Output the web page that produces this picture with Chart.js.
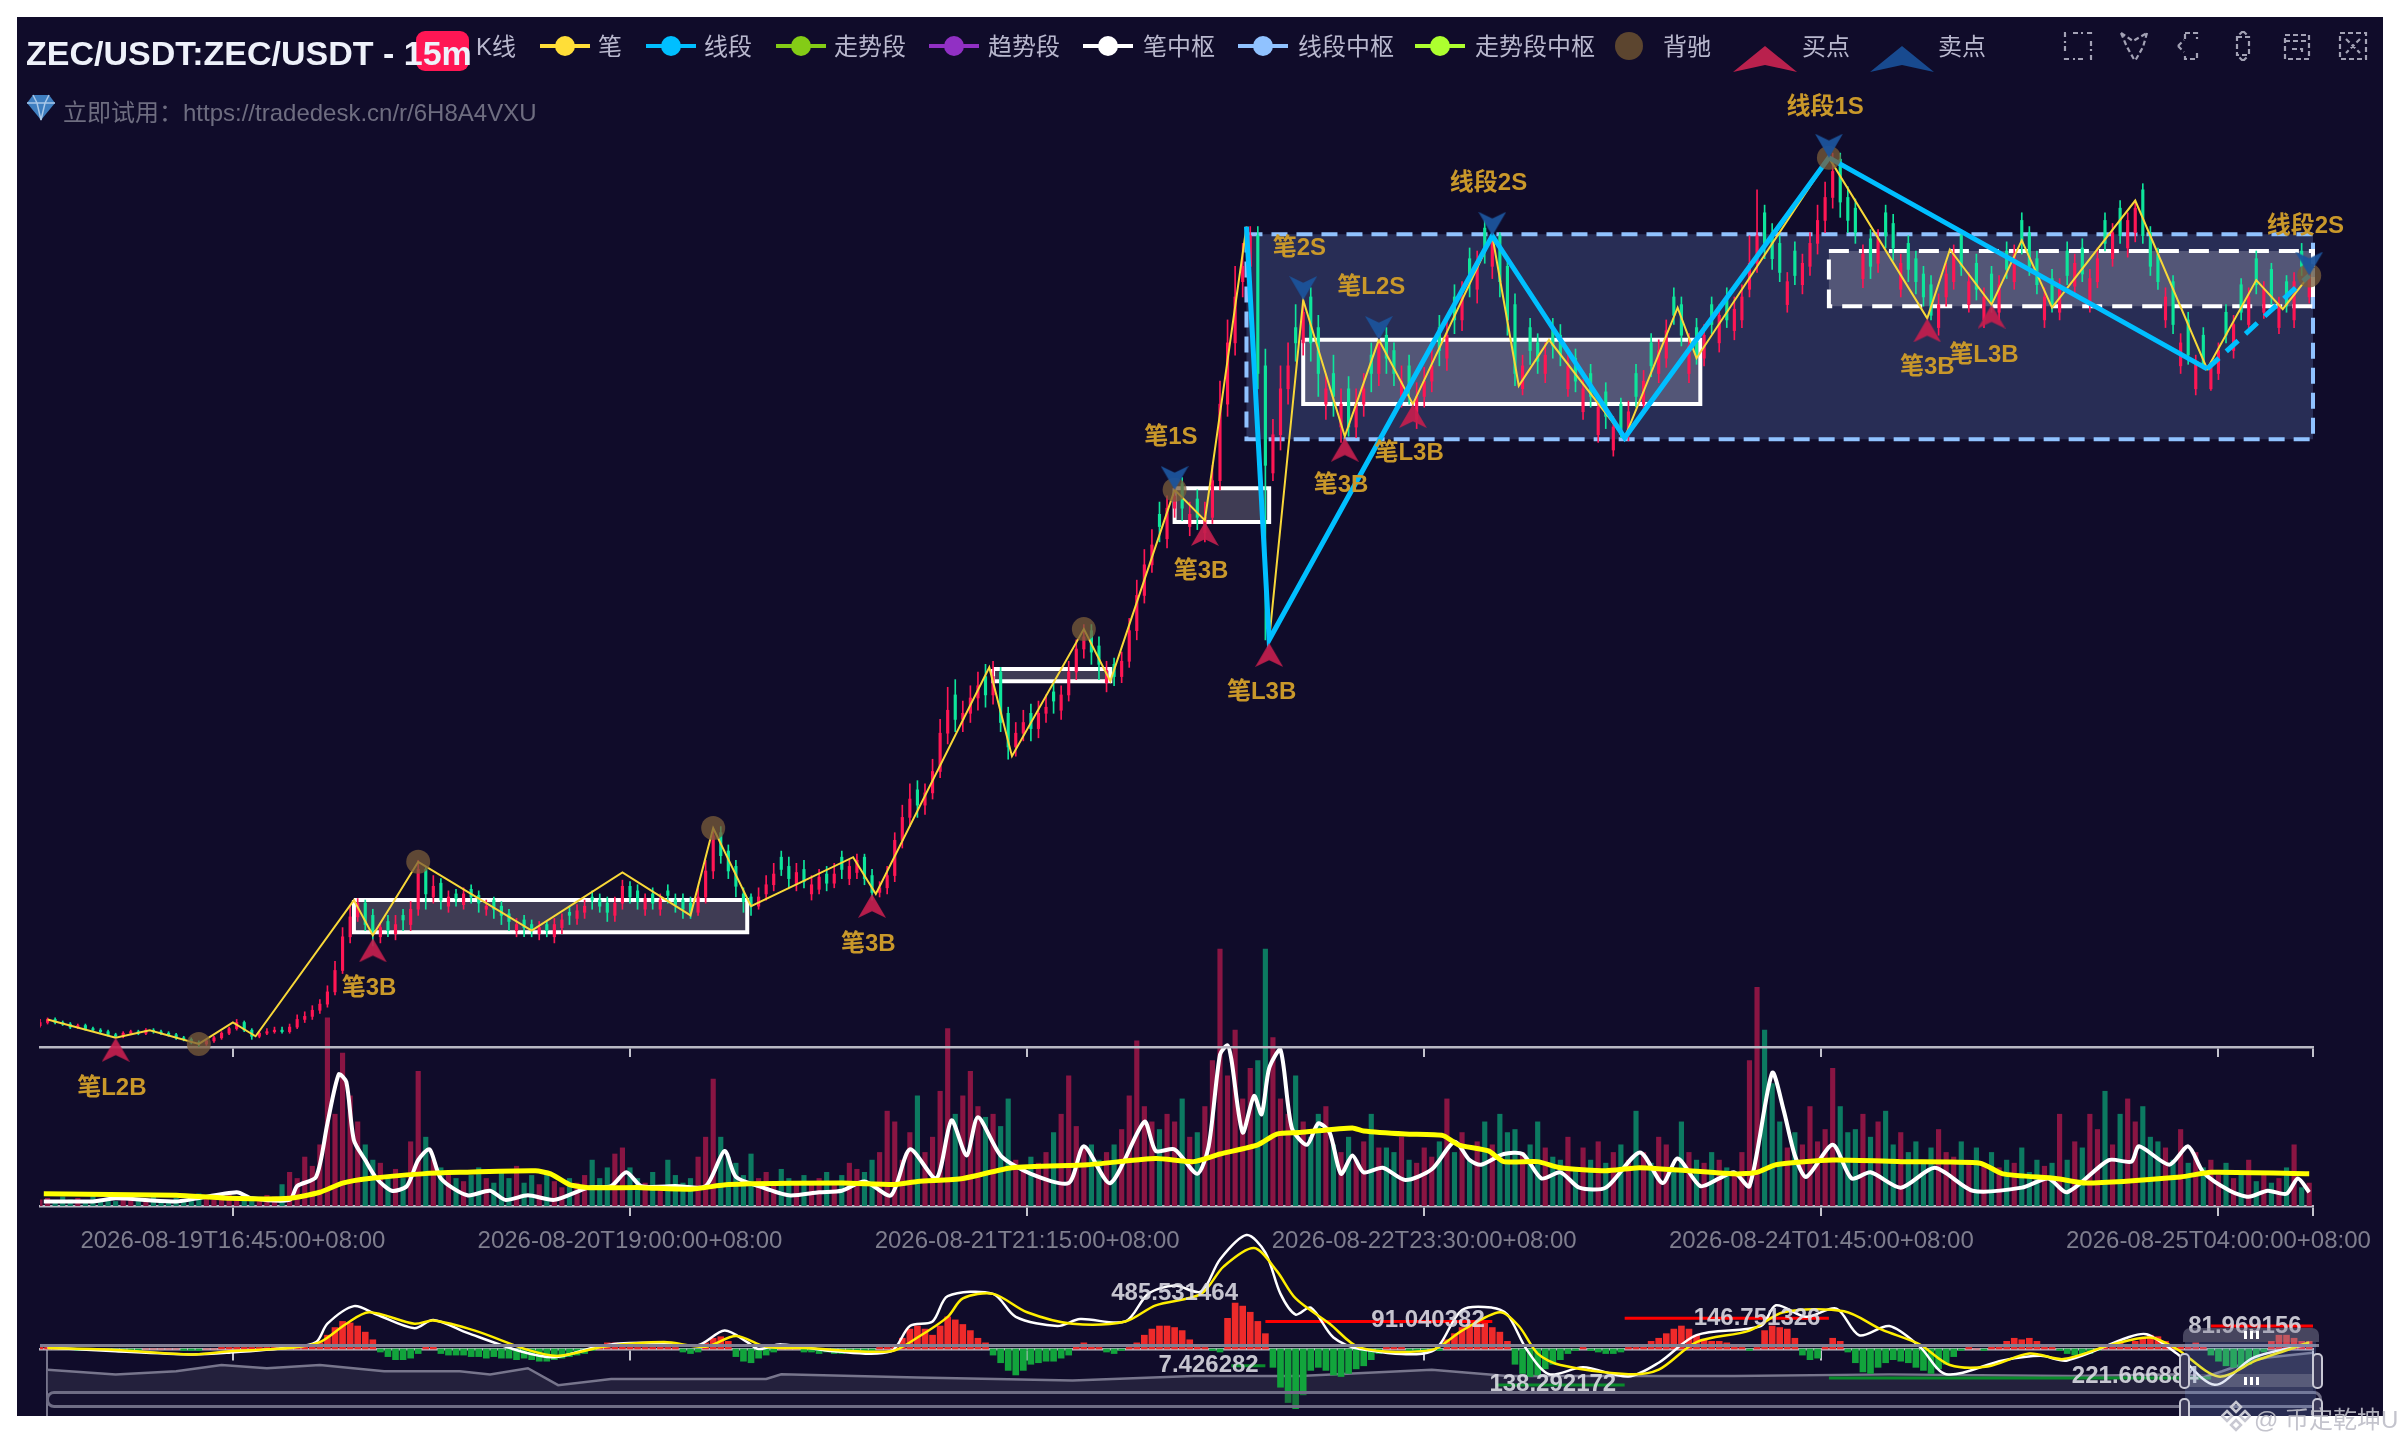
<!DOCTYPE html>
<html>
<head>
<meta charset="utf-8">
<title>ZEC/USDT</title>
<script src="https://cdn.jsdelivr.net/npm/chart.js@4/dist/chart.umd.js"></script>
<style>
  html, body { margin: 0; background: #fff; width: 2400px; height: 1440px; overflow: hidden; }
  body { position: relative; font-family: "Liberation Sans", "Noto Sans CJK SC", sans-serif; }
  canvas { position: absolute; left: 0; }
  .abs { position: absolute; }
  #panel { left: 17px; top: 17px; width: 2366px; height: 1399px; background: #100C2A; }
  #slider-box { left: 0; top: 0; width: 2383px; height: 1416px; overflow: hidden; pointer-events: none; }
  #title { left: 26px; top: 34px; font-size: 34px; font-weight: bold; color: #eef1fa; white-space: nowrap; z-index: 9; }
  #badge { left: 416px; top: 31px; width: 53px; height: 40px; background: #ff1654; border-radius: 9px; z-index: 8; }
  #subtitle { left: 63px; top: 93px; font-size: 24px; color: #6e6d80; white-space: nowrap; z-index: 9; }
  .legend-text { font-size: 24px; color: #b9b8ce; white-space: nowrap; z-index: 9; top: 27px; }
  #watermark { left: 2254px; top: 1400px; font-size: 24px; color: rgba(190,190,200,0.9); white-space: nowrap; z-index: 9; }
</style>
</head>
<body>
<div id="panel" class="abs"></div>
<div id="slider-box" class="abs"></div>
<div id="badge" class="abs"></div>
<div id="title" class="abs">ZEC/USDT:ZEC/USDT - 15m</div>
<svg class="abs" style="left:26px;top:92px;z-index:9" width="30" height="30" viewBox="0 0 30 30"><path d="M7 3 H23 L29 11 L15 28 L1 11 Z" fill="#3f7fc0"/><path d="M7 3 L11 11 L15 28 L19 11 L23 3 M1 11 H29" stroke="#a9c8e8" stroke-width="1.5" fill="none"/></svg>
<div id="subtitle" class="abs">立即试用：https://tradedesk.cn/r/6H8A4VXU</div>
<div id="legend"></div>
<div id="toolbox"></div>
<svg class="abs" style="left:2221px;top:1400px;z-index:9" width="30" height="32" viewBox="0 0 30 32"><path d="M15 2 L20 7 L15 12 L10 7 Z M6 11 L11 16 L6 21 L1 16 Z M24 11 L29 16 L24 21 L19 16 Z M15 20 L20 25 L15 30 L10 25 Z" fill="none" stroke="#c8c8d2" stroke-width="2.5"/></svg>
<div id="watermark" class="abs">@ 币定乾坤U</div>
<canvas id="slider-chart" width="2400" height="74" style="top:1342px;z-index:1"></canvas>
<canvas id="volume-chart" width="2400" height="361" style="top:900px;z-index:2"></canvas>
<canvas id="main-chart" width="2400" height="1140" style="top:0;z-index:3"></canvas>
<canvas id="macd-chart" width="2400" height="206" style="top:1210px;z-index:4"></canvas>
<script>
// Tick positions (bar index) and their labels
var tickIdx = [51, 156, 261, 366, 471, 576, 601];
var tickLabels = ['2026-08-19T16:45:00+08:00', '2026-08-20T19:00:00+08:00', '2026-08-21T21:15:00+08:00', '2026-08-22T23:30:00+08:00', '2026-08-24T01:45:00+08:00', '2026-08-25T04:00:00+08:00', ''];

// Candles, one for every second 15m bar
var opens = [114,116,118,116,115,113,114,112,111,110,108,107,109,110,109,111,110,109,108,106,105,103,102,104,106,109,112,116,111,
107,109,110,111,110,113,118,120,124,128,136,150,172,185,194,186,172,182,174,186,180,190,216,198,207,192,200,193,203,199,190,196,192,187,176,183,180,
174,180,172,178,188,184,188,198,196,194,186,194,205,202,190,200,190,202,196,196,194,188,198,215,240,228,218,200,198,
192,200,206,224,218,206,216,200,203,213,207,224,210,214,224,212,201,204,212,235,250,268,258,266,280,305,330,314,318,328,342,330,345,318,
296,305,318,308,318,332,320,330,345,360,372,362,338,350,342,352,372,395,415,448,432,452,468,440,458,436,446,470,520,560,600,610,630,545,
475,500,530,570,560,590,570,520,540,505,530,505,520,552,540,565,555,525,545,510,525,535,570,550,590,575,615,595,635,610,630,610,585,
530,570,560,540,570,565,530,550,515,540,500,528,490,520,500,540,520,560,540,550,590,585,540,570,
550,585,560,590,568,575,595,612,645,632,625,585,620,598,610,625,640,655,680,655,648,602,628,612,645,638,595,625,615,605,598,570,590,600,
630,585,612,575,605,580,620,600,640,632,615,575,602,580,620,597,622,585,600,640,615,648,622,632,660,632,618,575,600,545,575,530,565,530,
540,580,555,598,572,615,580,608,570,600,575,620,590];
var closes = [116,118,116,115,113,114,112,111,110,108,107,109,110,109,111,110,109,108,106,105,103,102,104,106,109,112,116,111,107,
109,110,111,110,113,118,120,124,128,136,150,172,185,194,180,176,178,176,180,183,190,216,200,205,196,198,197,200,198,194,192,190,186,182,180,178,177,
178,176,180,183,186,189,192,196,192,188,194,205,198,195,197,194,196,199,193,190,188,198,215,238,225,215,205,195,192,
198,206,213,216,210,214,208,206,211,207,213,216,218,222,210,201,204,212,235,250,262,258,266,280,305,320,314,318,328,336,330,342,312,296,
305,312,308,318,322,326,330,345,360,368,358,350,346,342,352,372,395,415,428,440,452,460,452,448,446,446,470,520,560,590,610,630,540,480,
500,530,545,560,580,560,540,530,525,520,505,520,530,540,560,550,540,535,530,525,535,545,555,565,575,590,600,612,622,628,600,575,540,
545,555,548,552,558,552,545,535,530,525,518,512,505,500,515,525,535,545,555,568,578,565,558,552,
565,572,578,575,582,590,612,630,625,615,606,600,604,612,625,640,655,672,652,640,632,618,610,628,630,622,612,608,600,590,578,585,605,618,
610,600,595,590,586,598,608,618,625,610,598,590,585,595,604,612,605,602,615,625,632,630,640,648,630,610,600,590,572,560,552,548,545,544,
555,565,572,580,590,598,595,590,585,584,600,610,604];
var highs = [118,119,119,117,116,115,115,113,112,111,109,110,111,111,112,112,111,110,109,107,106,104,105,107,110,113,118,117,112,
110,112,113,113,115,121,123,127,131,140,156,178,192,197,196,190,180,186,186,190,195,222,218,212,210,202,203,204,206,202,196,198,195,190,184,186,183,
182,182,184,187,192,193,196,202,200,198,198,209,208,206,200,204,200,206,200,200,198,204,222,242,244,232,222,204,200,
204,212,220,228,224,220,222,212,216,218,220,228,222,226,226,216,208,218,240,258,272,274,272,288,314,335,340,326,336,345,350,352,348,322,
312,320,324,326,330,338,336,352,366,376,376,368,352,354,358,380,405,425,438,456,460,466,472,456,464,456,480,535,575,610,625,636,636,556,
510,545,560,585,588,596,578,540,552,530,538,530,540,560,566,570,560,545,552,534,544,556,578,574,598,600,622,620,640,632,632,616,592,
552,576,566,560,576,572,552,556,536,546,526,534,512,524,522,546,542,566,562,575,596,590,566,576,
572,590,585,596,590,598,630,660,650,638,630,606,626,618,632,650,665,684,684,662,654,624,634,634,650,644,618,630,620,610,604,592,612,624,
634,606,618,596,610,604,626,624,645,636,620,596,608,602,626,618,628,608,622,645,638,653,645,653,664,636,622,596,604,566,580,552,570,548,
560,585,578,602,596,620,600,612,590,604,606,625,610];
var lows = [113,115,115,114,112,112,111,110,109,107,106,106,108,108,108,109,108,107,105,104,102,100,101,103,105,108,111,110,105,
106,108,109,109,109,112,116,118,122,126,134,148,168,182,176,166,168,172,170,176,176,186,190,194,190,188,192,190,194,188,186,184,180,176,172,172,172,
170,172,168,174,180,180,184,190,188,182,182,190,194,190,186,190,186,194,188,184,184,186,194,210,220,210,198,188,186,
190,196,202,212,204,202,204,196,200,202,204,210,206,210,206,196,198,200,208,230,244,250,252,262,276,298,306,306,312,320,322,324,306,288,
290,300,300,302,312,318,314,326,340,354,350,340,332,336,338,348,366,390,410,430,426,446,444,434,438,430,442,464,512,552,590,602,530,366,
470,490,520,548,552,548,525,510,512,495,499,498,512,528,532,540,532,518,520,504,518,528,545,542,566,568,590,586,612,602,590,565,532,
526,546,540,534,550,545,525,528,510,518,495,504,486,498,496,518,514,538,534,544,572,558,534,546,
545,566,554,570,562,570,590,606,615,608,600,580,598,592,604,618,632,648,642,632,625,596,602,606,622,614,590,600,592,584,575,565,584,595,
604,580,588,570,580,575,602,595,618,604,592,570,580,575,598,592,600,580,596,620,610,625,616,626,625,604,595,570,566,540,546,526,543,529,
536,560,550,575,568,592,576,585,566,580,570,604,586];

// Volume and its two moving averages
var volumes = [4,5,3,6,4,5,3,8,4,5,3,6,4,3,5,6,4,3,5,4,3,8,5,4,6,9,5,4,3,
5,7,6,14,22,18,32,26,40,123,60,100,72,55,40,30,28,20,24,18,42,88,45,30,25,22,18,16,20,25,18,15,22,18,26,15,20,
14,22,16,12,18,15,20,30,18,25,34,38,25,18,15,22,12,30,20,15,18,32,45,83,45,32,28,20,34,
18,22,15,24,18,15,20,14,18,22,16,20,28,24,22,30,35,62,55,30,48,72,35,45,75,116,60,72,88,65,58,60,52,70,
30,25,32,28,35,48,60,85,52,38,40,30,35,40,50,72,108,65,55,50,60,55,70,45,48,65,95,168,85,115,70,90,95,168,
110,70,60,85,55,45,60,65,40,35,45,30,42,60,38,38,35,45,30,28,38,32,42,70,35,48,30,42,55,40,60,48,50,
35,40,55,38,32,30,45,25,38,30,42,28,35,40,30,62,35,28,45,40,25,55,35,30,
28,35,30,25,22,35,95,143,115,80,55,38,48,40,65,42,50,90,65,48,50,60,45,55,62,40,48,35,42,30,38,50,35,32,
42,30,38,28,35,25,30,28,38,22,30,26,28,60,30,42,38,60,50,75,40,60,70,55,65,45,42,38,30,50,28,35,25,30,
20,28,18,22,30,16,20,15,18,25,40,12,15];
var ma5Idx = [1,14,20,36,52,56,66,68,73,76,79,81,83,86,89,93,97,100,103,106,113,119,123,129,136,145,151,155,159,168,176,181,184,190,198,206,212,218,225,230,237,241,245,248,254,262,272,276,283,292,295,300,306,
309,312,314,315,318,321,323,325,328,331,335,338,341,344,347,350,355,361,368,374,378,381,387,392,397,402,407,414,423,429,433,439,444,448,452,458,461,464,467,474,479,484,492,501,511,524,531,536,547,553,555,563,568,572,579,584,589,594,597,600];
var ma5 = [3,3,5,3,9,5,4,13,19,54,86,81,43,30,18,10,13,30,37,18,7,10,4,7,4,12,13,22,13,13,13,36,19,13,7,9,10,16,7,37,18,56,33,58,33,21,15,39,15,55,36,37,21,
39,99,105,96,48,72,60,90,102,51,40,54,48,21,33,22,25,17,24,42,30,27,34,34,18,22,12,12,35,15,31,13,18,22,13,87,63,33,19,40,18,22,12,25,10,12,18,9,30,29,39,27,39,22,10,6,10,8,18,9];
var ma10Idx = [1,36,50,66,74,80,87,101,111,131,135,140,145,159,172,182,212,226,232,244,257,277,295,305,312,322,327,333,347,350,361,371,375,383,387,396,402,414,423,448,454,459,474,492,513,519,533,541,566,574,600];
var ma10 = [8,7,5,5,9,15,18,21,22,23,21,14,12,12,11,14,15,14,16,18,25,27,31,29,34,40,47,48,51,49,47,46,40,36,29,29,25,23,25,21,22,27,30,29,28,21,18,15,19,22,21];

// MACD histogram (every second bar), DIF and DEA
var hist = [1,1,1,0,0,-1,-1,-1,-1,-1,-1,-1,-1,-1,0,0,0,0,0,-1,-1,-1,0,0,1,1,1,1,1,1,1,1,1,1,1,2,2,
4,9,14,18,17,15,11,6,-2,-5,-7,-7,-6,-3,2,2,-3,-4,-4,-4,-5,-5,-6,-5,-6,-6,-7,-6,-7,-8,-8,-7,-6,-5,-4,-3,-1,
3,4,4,3,2,1,1,1,2,1,1,-2,-3,-2,4,7,8,5,-5,-8,-9,-6,-4,-2,1,2,1,-2,-2,-3,-2,-3,-3,-2,-2,-3,-2,1,1,
3,7,13,15,13,9,15,21,19,16,12,7,4,-4,-9,-14,-17,-14,-10,-9,-8,-8,-6,-4,2,4,3,1,-2,-3,-1,1,4,9,13,15,15,14,12,6,3,1,
-1,-2,20,30,28,24,18,10,-12,-25,-35,-39,-30,-14,-12,-14,-17,-18,-16,-13,-11,-7,-3,1,1,1,-1,-1,-2,-1,-1,
6,10,14,16,18,17,14,11,5,-10,-16,-18,-17,-13,-10,-7,-3,-1,1,-1,-2,-3,-3,-2,1,1,3,5,7,10,13,15,13,9,6,5,5,4,3,1,-1,1,
12,15,14,13,7,-4,-7,-6,3,7,5,-2,-9,-15,-16,-12,-9,-7,-8,-9,-12,-14,-16,-13,-10,-5,-1,1,0,-1,
2,3,5,7,6,7,5,3,1,-1,-3,-4,-4,-3,-1,2,3,4,3,5,7,9,8,5,3,3,2,4,3,-4,-8,-11,-12,-12,-10,-6,-2,5,9,9,7,5,5,3];
var difIdx = [2,20,40,50,66,73,76,83,89,99,104,113,127,136,146,153,163,174,181,187,190,196,210,225,230,236,240,252,258,269,275,287,293,300,307,312,319,324,328,332,336,342,349,368,376,384,388,393,399,408,420,428,438,455,459,467,475,481,489,497,504,519,529,536,552,557,565,575,585,595,600];
var dif = [1,-1.5,-3.6,-2.4,1,4.5,16.5,28,22.5,13.5,19,10.5,-1.5,-5.4,0.6,3.6,4,2.4,12,4.5,0,3,-1.5,-1.5,15,18,34.5,36,21,15,19.5,18,36,41.4,37.5,58.5,74.4,63,36,22.5,27,7.5,0,-1.5,25.5,27,22.5,0,-16.5,-12,-18,-9,9,15,28.5,21,26.4,9,15,1.5,-16.5,-7.5,-4.5,-7.5,7.5,9.6,-3,-23.4,-6,0.6,3];
var deaIdx = [2,20,40,50,66,74,81,87,99,104,115,129,137,149,165,176,184,192,202,225,232,240,244,252,261,273,287,295,307,313,321,327,332,341,349,368,376,386,391,396,402,420,428,438,452,461,477,487,497,505,515,526,535,548,558,565,576,586,595,600];
var dea = [0.6,-0.6,-3.6,-1.5,0.6,4.5,16.5,24,16.5,18.6,12,-0.6,-4.5,1.5,4.5,1.5,8.4,1.5,0.6,-1.5,7.5,21,33,36,24,16.5,18,28.5,36,54,66,51,33,16.5,0.9,-0.6,12,24,15,-3,-10.5,-16.5,-13.5,4.5,12,24,24.6,12.6,3,-10.5,-11.4,-3,-6.6,3,7.5,0,-18,-7.5,0,4.5];

// MACD max / min mark lines and labels
var redLineLeft = [324, 419, 574];
var redLineRight = [384, 473, 601];
var redLineLevel = [18, 20, 15];
var greenLineLeft = [315, 385, 473];
var greenLineRight = [324, 419, 574];
var greenLineLevel = [-11, -23.5, -19];
var macdTextIdx = [300, 309, 367, 400, 454, 554, 583];
var macdTextVal = [36, -11, 19, -23, 20, -18, 15];
var macdTexts = ['485.531464', '7.426282', '91.040382', '138.292172', '146.751326', '221.666884', '81.969156'];

// Data zoom overview line
var overviewIdx = [2,20,36,48,60,74,91,111,119,129,137,151,172,192,196,232,273,305,333,368,388,448,489,537,567,572,577,585,589,601];
var overview = [30,27,29,33,31,33,29,29,27,31,20,24,24,24,27,25,23,26,26,30,26,26,27,26,27,25,29,36,38,41];

// Chan theory strokes and segments
var biIdx = [2,20,29,42,51,57,83,88,100,130,154,172,178,188,215,221,251,257,276,283,300,308,319,325,334,345,354,363,384,391,399,419,433,438,473,499,505,516,524,532,554,573,586,593,600];
var biPrice = [118,106,111,102,116,107,196,173,221,176,214,186,243,192,224,200,348,290,373,339,464,444,636,366,588,499,562,520,630,532,562,498,583,550,681,576,621,585,627,583,653,543,601,582,604];
var segIdx = [319,325,384,419,473,573];
var segPrice = [636,366,630,498,681,543];
var segDashIdx = [573,600];
var segDashPrice = [543,604];

// Pivots: stroke pivots and the segment pivot
var biPivotLeft = [83, 252, 300, 334, 473];
var biPivotRight = [187, 283, 325, 439, 601];
var biPivotTop = [196, 347, 465, 562, 620];
var biPivotBottom = [175, 339, 443, 520, 584];
var segPivotLeft = 319, segPivotRight = 601, segPivotTop = 631, segPivotBottom = 497;

// Buy, sell and divergence marks
var buyIdx = [20, 88, 220, 308, 325, 345, 363, 499, 516];
var buyPrice = [106, 171, 200, 443, 364, 498, 520, 576, 585];
var sellIdx = [300, 334, 354, 384, 473, 600];
var sellPrice = [464, 588, 562, 630, 681, 604];
var divIdx = [42, 100, 178, 276, 300, 473, 600];
var divPrice = [102, 221, 243, 373, 464, 681, 604];
var markTexts = ['笔L2B','笔3B','笔3B','笔3B','笔L3B','笔3B','笔L3B','笔3B','笔L3B','笔1S','笔2S','笔L2S','线段2S','线段1S','线段2S'];
var markTextIdx = [19, 87, 219, 307, 323, 344, 362, 499, 514, 299, 333, 352, 383, 472, 599];
var markTextPrice = [73, 138, 167, 411, 332, 467, 488, 544, 552, 498, 622, 596, 664, 714, 636];

// Legend
var legendNames = ['笔', '线段', '走势段', '趋势段', '笔中枢', '线段中枢', '走势段中枢'];
var legendColors = ['#FFDE38', '#00BFFF', '#84CC16', '#9130C4', '#FFFFFF', '#90C2FF', '#ADFF2F'];
var legendIconX = [540, 646, 776, 929, 1083, 1238, 1415];
var legendTextX = [598, 704, 834, 988, 1143, 1298, 1475];

var UP = '#ff1654', DOWN = '#0ee59b';
var BUY = 'rgba(196,32,78,0.92)', SELL = 'rgba(28,84,156,0.95)';
var PAD = { left: 40, right: 87, top: 0, bottom: 0 };

function pts(xs, ys) {
  return xs.map(function(x, i) { return { x: x, y: ys[i] }; });
}

function box(l, r, t, b) {
  return [{ x: l, y: t }, { x: r, y: t }, { x: r, y: b }, { x: l, y: b }, { x: l, y: t }];
}

// Concave arrow with the tip in the middle of the sprite, so it lands on the data point
function arrowSprite(color, up) {
  var w = 28, h = 24;
  var c = document.createElement('canvas');
  c.width = w; c.height = h * 2;
  var g = c.getContext('2d');
  g.fillStyle = color;
  g.translate(w / 2, h);
  if (!up) { g.scale(1, -1); }
  g.beginPath();
  g.moveTo(0, 0); g.lineTo(w / 2, h); g.lineTo(0, h * 0.72); g.lineTo(-w / 2, h);
  g.closePath();
  g.fill();
  return c;
}

function xScale(show, extra) {
  var s = {
    type: 'linear', min: 0, max: 601, offset: false, display: show,
    grid: { offset: false, drawOnChartArea: false, drawTicks: true, tickLength: 10, color: '#c4c4ce', lineWidth: 2 },
    border: { display: true, color: '#b9b9c4', width: 2.5 },
    ticks: { display: false, autoSkip: false, maxRotation: 0 },
    afterBuildTicks: function(scale) {
      scale.ticks = tickIdx.map(function(v) { return { value: v }; });
    }
  };
  return Object.assign(s, extra || {});
}

function baseOptions(scales) {
  return {
    responsive: false, animation: false, devicePixelRatio: 1,
    layout: { padding: PAD, autoPadding: false },
    events: [],
    plugins: { legend: { display: false }, tooltip: { enabled: false }, title: { display: false } },
    scales: scales
  };
}

// Draws a text at a data position, centred
function textPlugin(id, xs, ys, texts, font, color) {
  return {
    id: id,
    afterDraw: function(chart) {
      var g = chart.ctx;
      g.save();
      g.font = font; g.fillStyle = color; g.textAlign = 'center'; g.textBaseline = 'middle';
      texts.forEach(function(t, i) {
        g.fillText(t, chart.scales.x.getPixelForValue(xs[i]), chart.scales.y.getPixelForValue(ys[i]));
      });
      g.restore();
    }
  };
}

/* --- Main price chart --- */
var barIdx = closes.map(function(v, i) { return i * 2; });
var barColors = closes.map(function(v, i) { return v >= opens[i] ? UP : DOWN; });
var biPivotSets = biPivotLeft.map(function(l, i) {
  var dashed = i === biPivotLeft.length - 1;
  return {
    type: 'line', data: box(l, biPivotRight[i], biPivotTop[i], biPivotBottom[i]), order: 8,
    borderColor: '#ffffff', borderWidth: 4, borderDash: dashed ? [20, 10] : [], fill: 'shape',
    backgroundColor: 'rgba(255,255,255,0.2)', pointRadius: 0, tension: 0, clip: false
  };
});

new Chart(document.getElementById('main-chart'), {
  type: 'bar',
  data: {
    datasets: [
      { type: 'line', data: box(segPivotLeft, segPivotRight, segPivotTop, segPivotBottom), order: 9, borderColor: '#90C2FF', borderWidth: 4, borderDash: [16, 9], fill: 'shape', backgroundColor: 'rgba(128,165,240,0.22)', pointRadius: 0, tension: 0, clip: false }
    ].concat(biPivotSets).concat([
      { data: barIdx.map(function(x, i) { return { x: x, y: [lows[i], highs[i]] }; }), backgroundColor: barColors, barThickness: 1, grouped: false, order: 7 },
      { data: barIdx.map(function(x, i) { return { x: x, y: [opens[i], closes[i]] }; }), backgroundColor: barColors, barThickness: 2.5, grouped: false, order: 6 },
      { type: 'line', data: pts(biIdx, biPrice), order: 5, borderColor: '#F8D838', borderWidth: 2, pointRadius: 0, tension: 0, clip: false },
      { type: 'line', data: pts(segIdx, segPrice), order: 4, borderColor: '#00BFFF', borderWidth: 5, pointRadius: 0, tension: 0, clip: false },
      { type: 'line', data: pts(segDashIdx, segDashPrice), order: 4, borderColor: '#00BFFF', borderWidth: 5, borderDash: [16, 10], pointRadius: 0, tension: 0, clip: false },
      { type: 'line', data: pts(divIdx, divPrice), order: 3, showLine: false, pointRadius: 12, pointBackgroundColor: 'rgba(122,92,58,0.75)', pointBorderWidth: 0, clip: false },
      { type: 'line', data: pts(buyIdx, buyPrice), order: 2, showLine: false, pointStyle: arrowSprite(BUY, true), clip: false },
      { type: 'line', data: pts(sellIdx, sellPrice), order: 2, showLine: false, pointStyle: arrowSprite(SELL, false), clip: false }
    ])
  },
  options: baseOptions({
    x: xScale(true, { afterFit: function(s) { s.height = 93; } }),
    y: { type: 'linear', min: 100, max: 784, display: false }
  }),
  plugins: [textPlugin('markLabels', markTextIdx, markTextPrice, markTexts, 'bold 24px "Liberation Sans", "Noto Sans CJK SC"', '#C9982A')]
});

/* --- Volume chart --- */
new Chart(document.getElementById('volume-chart'), {
  type: 'bar',
  data: {
    datasets: [
      { data: pts(barIdx, volumes), backgroundColor: closes.map(function(v, i) { return v >= opens[i] ? '#8a1543' : '#0c7a61'; }), barThickness: 4.5, grouped: false, order: 3 },
      { type: 'line', data: pts(ma5Idx, ma5), borderColor: '#ffffff', borderWidth: 4, pointRadius: 0, tension: 0.25, order: 2 },
      { type: 'line', data: pts(ma10Idx, ma10), borderColor: '#ffff00', borderWidth: 5, pointRadius: 0, tension: 0.2, order: 1 }
    ]
  },
  options: baseOptions({
    x: xScale(true, {
      afterFit: function(s) { s.height = 55; },
      ticks: {
        display: true, autoSkip: false, maxRotation: 0, padding: 11, color: '#7f7e8e',
        font: { family: '"Liberation Sans"', size: 24 },
        callback: function(value) { return tickLabels[tickIdx.indexOf(value)]; }
      }
    }),
    y: { type: 'linear', min: 0, max: 200, display: false }
  })
});

/* --- MACD chart --- */
var macdMarks = [];
redLineLeft.forEach(function(l, i) {
  macdMarks.push({ type: 'line', data: [{ x: l, y: redLineLevel[i] }, { x: redLineRight[i], y: redLineLevel[i] }], borderColor: '#ff0000', borderWidth: 3, pointRadius: 0, order: 4 });
});
greenLineLeft.forEach(function(l, i) {
  macdMarks.push({ type: 'line', data: [{ x: l, y: greenLineLevel[i] }, { x: greenLineRight[i], y: greenLineLevel[i] }], borderColor: '#0a8a2c', borderWidth: 3, pointRadius: 0, order: 4 });
});

new Chart(document.getElementById('macd-chart'), {
  type: 'bar',
  data: {
    datasets: [
      { data: pts(barIdx, hist), backgroundColor: hist.map(function(v) { return v >= 0 ? '#ee2a2a' : '#12a43c'; }), barThickness: 6, grouped: false, order: 5 },
      { type: 'line', data: pts(difIdx, dif), borderColor: '#ffffff', borderWidth: 2.5, pointRadius: 0, tension: 0.3, order: 3 },
      { type: 'line', data: pts(deaIdx, dea), borderColor: '#ffee00', borderWidth: 2.5, pointRadius: 0, tension: 0.3, order: 2 }
    ].concat(macdMarks)
  },
  options: baseOptions({
    x: xScale(true, { position: { y: 0 } }),
    y: { type: 'linear', min: -43.8, max: 90.8, display: false }
  }),
  plugins: [textPlugin('macdLabels', macdTextIdx, macdTextVal, macdTexts, 'bold 24px "Liberation Sans"', 'rgba(222,222,230,0.88)')]
});

/* --- Data zoom overview --- */
new Chart(document.getElementById('slider-chart'), {
  type: 'line',
  data: {
    datasets: [
      { data: pts(overviewIdx, overview), borderColor: '#77758c', borderWidth: 2.5, pointRadius: 0, tension: 0, fill: { value: 16 }, backgroundColor: '#23203c' },
      { data: pts(overviewIdx, overview), yAxisID: 'y2', borderColor: '#77758c', borderWidth: 2.5, pointRadius: 0, tension: 0, fill: 'end', backgroundColor: 'rgba(0,0,0,0)' }
    ]
  },
  options: baseOptions({
    x: { type: 'linear', min: 0, max: 601, display: false },
    y: { type: 'linear', min: 0, max: 48, display: false },
    y2: { type: 'linear', min: -31, max: 17, display: false }
  })
});

/* --- Slider chrome --- */
function addDiv(parent, css, z) {
  var d = document.createElement('div');
  d.className = 'abs';
  d.style.cssText = css + (z ? ';z-index:' + z : '');
  parent.appendChild(d);
  return d;
}

var sliderBox = document.getElementById('slider-box');
sliderBox.style.zIndex = 5;
var backBox = document.createElement('div');
backBox.className = 'abs';
backBox.style.cssText = 'left:0;top:0;width:2383px;height:1416px;overflow:hidden;z-index:0';
document.body.appendChild(backBox);
// frame under the overview line
addDiv(backBox, 'left:46px;top:1345px;width:2px;height:71px;background:#77758c');
addDiv(sliderBox, 'left:40px;top:1344px;width:2279px;height:3px;background:#807f92');
addDiv(sliderBox, 'left:46px;top:1391px;width:2270px;height:11px;border:3px solid #6f6d85;border-radius:8px;background:rgba(34,31,59,0.35)');
// selected window at the right end
addDiv(sliderBox, 'left:2185px;top:1342px;width:131px;height:74px;background:rgba(135,170,240,0.2)');
addDiv(sliderBox, 'left:2185px;top:1374px;width:131px;height:13px;background:rgba(205,205,215,0.22)');
addDiv(sliderBox, 'left:2183px;top:1328px;width:136px;height:14px;background:rgba(140,140,160,0.45);border-radius:7px 7px 0 0');
[2244, 2250, 2256].forEach(function(x) {
  addDiv(sliderBox, 'left:' + x + 'px;top:1331px;width:3px;height:8px;background:#fff');
  addDiv(sliderBox, 'left:' + x + 'px;top:1377px;width:3px;height:8px;background:#fff');
});
[2179, 2312].forEach(function(x) {
  addDiv(sliderBox, 'left:' + x + 'px;top:1353px;width:7px;height:32px;border:2.5px solid #c8c8d4;border-radius:5px;background:#3a3858');
  addDiv(sliderBox, 'left:' + x + 'px;top:1398px;width:7px;height:32px;border:2.5px solid #c8c8d4;border-radius:5px;background:#3a3858');
});

/* --- Legend and toolbox --- */
var legend = document.getElementById('legend');
function addLegendText(txt, x) {
  var t = document.createElement('div');
  t.className = 'abs legend-text';
  t.style.left = x + 'px';
  t.textContent = txt;
  legend.appendChild(t);
}
function addSvg(parent, x, y, w, h, inner) {
  var wrap = document.createElement('div');
  wrap.className = 'abs';
  wrap.style.cssText = 'left:' + x + 'px;top:' + y + 'px;z-index:9;line-height:0';
  wrap.innerHTML = '<svg width="' + w + '" height="' + h + '" viewBox="0 0 ' + w + ' ' + h + '">' + inner + '</svg>';
  parent.appendChild(wrap);
}
addLegendText('K线', 476);
legendNames.forEach(function(name, i) {
  var c = legendColors[i];
  addSvg(legend, legendIconX[i], 34, 50, 24, '<rect x="0" y="10" width="50" height="4" fill="' + c + '"/><circle cx="25" cy="12" r="10" fill="' + c + '"/>');
  addLegendText(name, legendTextX[i]);
});
addSvg(legend, 1614, 30, 30, 32, '<circle cx="15" cy="16" r="14" fill="#5c452f"/>');
addLegendText('背驰', 1663);
addSvg(legend, 1733, 46, 64, 28, '<path d="M32 0 L64 26 L32 19 L0 26 Z" fill="#b9214d"/>');
addLegendText('买点', 1802);
addSvg(legend, 1870, 46, 64, 28, '<path d="M32 0 L64 26 L32 19 L0 26 Z" fill="#184a8f"/>');
addLegendText('卖点', 1938);

var toolbox = document.getElementById('toolbox');
var toolX = [2063, 2119, 2176, 2228, 2282, 2338];
var toolInner = [
  '<path d="M2 6 V2 H6 M10 2 H20 M24 2 H28 V6 M28 10 V20 M28 24 V28 H24 M20 28 H10 M6 28 H2 V24 M2 20 V10"/>',
  '<path d="M2 2 L14 10 L28 2 M2 2 L8 16 L16 30 M28 2 L24 16 L16 30"/>',
  '<path d="M9 2 H21 V8 M21 22 V28 H9 V22 M9 8 V2 M2 15 L8 9 M2 15 L8 21"/>',
  '<path d="M9 6 H21 V24 H9 Z M15 0 L10 5 M15 0 L20 5 M15 30 L10 25 M15 30 L20 25"/>',
  '<path d="M3 4 H27 V28 H3 Z M3 10 H27 M10 18 H20 V24"/>',
  '<path d="M2 2 H28 V28 H2 Z M8 8 L22 22 M22 8 L8 22"/>'
];
toolX.forEach(function(x, i) {
  addSvg(toolbox, x, 31, 30, 30, '<g fill="none" stroke="#a3a2b5" stroke-width="2.2" stroke-dasharray="5 3">' + toolInner[i] + '</g>');
});
</script>
</body>
</html>
